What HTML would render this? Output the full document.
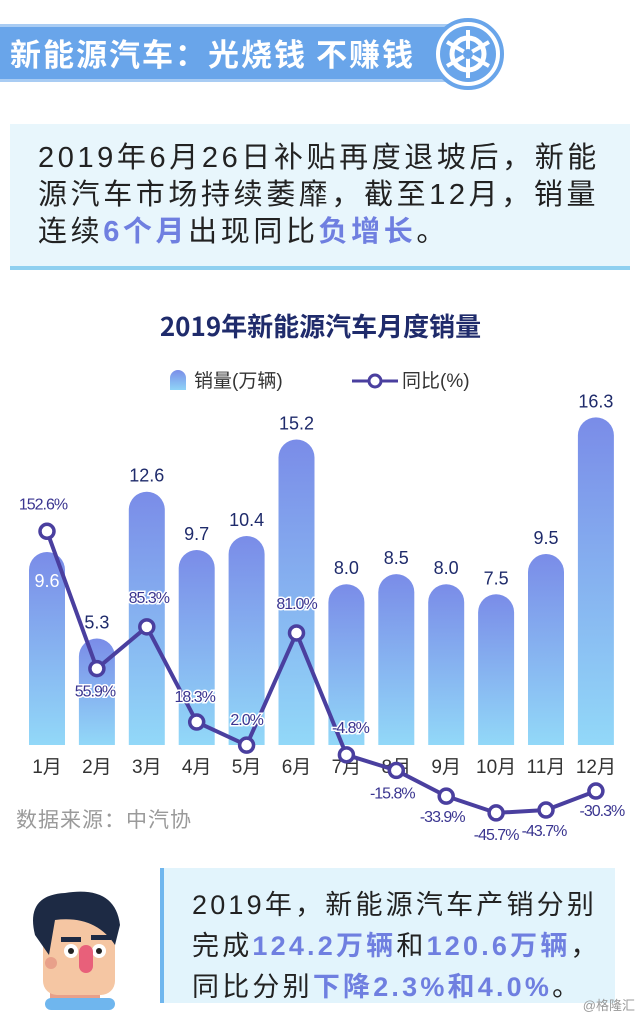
<!DOCTYPE html>
<html><head><meta charset="utf-8">
<style>
body{margin:0;width:641px;height:1019px;background:#fff;overflow:hidden;position:relative;font-family:"Liberation Sans","Noto Sans CJK SC",sans-serif}
.abs{position:absolute}
</style></head><body>
<div class="abs" style="left:0;top:24px;width:450px;height:58px;background:#69a5ea;border-top:3px solid #a9ccf3;border-bottom:3px solid #a9ccf3;box-sizing:border-box"></div>
<div class="abs" style="left:10px;top:30px;font-size:31px;font-weight:bold;color:#fff;letter-spacing:2px;font-family:'Noto Sans CJK SC',sans-serif">新能源汽车：光烧钱 不赚钱</div>
<svg class="abs" style="left:430px;top:16px" width="76" height="76">
<circle cx="38" cy="38" r="34" fill="#fff" stroke="#69a5ea" stroke-width="4"/>
<circle cx="38" cy="38" r="28" fill="#69a5ea"/>
<circle cx="38" cy="38" r="16" fill="none" stroke="#fff" stroke-width="5"/>
<g stroke="#fff" stroke-width="4"><line x1="38" y1="14" x2="38" y2="62"/><line x1="17" y1="26" x2="59" y2="50"/><line x1="17" y1="50" x2="59" y2="26"/></g>
<circle cx="38" cy="38" r="5" fill="#69a5ea"/>
</svg>
<div class="abs" style="left:10px;top:124px;width:620px;height:142px;background:#e8f6fc;border-bottom:4px solid #8fd0f0"></div>
<div class="abs" style="left:38px;top:140px;font-size:29px;line-height:37px;color:#222;width:600px;letter-spacing:3.6px;white-space:nowrap">2019年6月26日补贴再度退坡后，新能<br>源汽车市场持续萎靡，截至12月，销量<br>连续<b style="color:#6f7fe0">6个月</b>出现同比<b style="color:#6f7fe0">负增长</b>。</div>
<div class="abs" style="left:0;width:641px;text-align:center;top:307px;font-size:26px;font-weight:bold;color:#1f2b6b;font-family:'Noto Sans CJK SC',sans-serif">2019年新能源汽车月度销量</div>
<div class="abs" style="left:170px;top:366px;font-size:19px;color:#333"><span style="display:inline-block;width:16px;height:20px;border-radius:8px 8px 0 0;background:linear-gradient(#7a8ee8,#8fd4f7);vertical-align:-3px;margin-right:8px"></span>销量(万辆)</div>
<div class="abs" style="left:352px;top:366px;font-size:19px;color:#333"><svg width="46" height="16" style="vertical-align:-2px;margin-right:4px"><line x1="0" y1="8" x2="46" y2="8" stroke="#4a3f9f" stroke-width="3"/><circle cx="23" cy="8" r="6" fill="#fff" stroke="#4a3f9f" stroke-width="3"/></svg>同比(%)</div>
<svg class="abs" id="chart" style="left:0;top:0" width="641" height="870">
<defs><linearGradient id="bg" x1="0" y1="0" x2="0" y2="1"><stop offset="0" stop-color="#7a8ce8"/><stop offset="1" stop-color="#92d8f8"/></linearGradient></defs>
</svg>
<div class="abs" style="left:16px;top:804px;font-size:21px;color:#9a9a9a;letter-spacing:1px">数据来源：中汽协</div>
<div class="abs" style="left:160px;top:868px;width:455px;height:135px;background:#e2f4fc;border-left:4px solid #6fb6ee;box-sizing:border-box"></div>
<div class="abs" style="left:192px;top:885px;font-size:27px;line-height:41px;color:#222;letter-spacing:3.2px;white-space:nowrap">2019年，新能源汽车产销分别<br>完成<b style="color:#6f7fe0">124.2万辆</b>和<b style="color:#6f7fe0">120.6万辆</b>，<br>同比分别<b style="color:#6f7fe0">下降2.3%和4.0%</b>。</div>
<svg class="abs" style="left:15px;top:885px" width="120" height="130">
<rect x="35" y="85" width="50" height="35" fill="#e8a08a"/>
<rect x="28" y="20" width="72" height="90" rx="14" fill="#f5c6a3"/>
<path d="M20 50 Q10 10 50 8 Q100 0 105 40 L100 60 Q80 30 40 35 L34 70 Z" fill="#1d2a44"/>
<circle cx="56" cy="66" r="7" fill="#fff"/><circle cx="56" cy="66" r="3" fill="#222"/>
<circle cx="84" cy="66" r="7" fill="#fff"/><circle cx="84" cy="66" r="3" fill="#222"/>
<rect x="46" y="52" width="20" height="5" fill="#1d2a44"/><rect x="76" y="50" width="20" height="5" fill="#1d2a44"/>
<rect x="64" y="60" width="14" height="28" rx="7" fill="#e8607a"/>
<circle cx="36" cy="78" r="6" fill="#e8a08a"/>
<rect x="30" y="113" width="70" height="12" rx="6" fill="#6fb6ee"/>
</svg>
<div class="abs" style="right:6px;top:995px;font-size:13px;color:#999">@格隆汇</div>
<script>
const months=['1月','2月','3月','4月','5月','6月','7月','8月','9月','10月','11月','12月'];
const sales=[9.6,5.3,12.6,9.7,10.4,15.2,8.0,8.5,8.0,7.5,9.5,16.3];
const salesLabels=['9.6','5.3','12.6','9.7','10.4','15.2','8.0','8.5','8.0','7.5','9.5','16.3'];
const yoy=[152.6,55.9,85.3,18.3,2.0,81.0,-4.8,-15.8,-33.9,-45.7,-43.7,-30.3];
const yoyLabels=['152.6%','55.9%','85.3%','18.3%','2.0%','81.0%','-4.8%','-15.8%','-33.9%','-45.7%','-43.7%','-30.3%'];
const yoyLabelOffsets=[[-4,-22],[-2,28],[2,-24],[-2,-20],[0,-20],[0,-24],[4,-22],[-4,28],[-4,26],[0,27],[-2,26],[6,25]];
const svg=document.getElementById('chart'),NS='http://www.w3.org/2000/svg';
const xOf=i=>47+i*49.9, base=745, yS=v=>base-v*20.1, yP=v=>748-v*1.42, bw=36;
function mk(t,a){const e=document.createElementNS(NS,t);for(const k in a)e.setAttribute(k,a[k]);svg.appendChild(e);return e;}
sales.forEach((v,i)=>{
 const x=xOf(i),t=yS(v),r=bw/2;
 const b=mk('path',{d:`M${x-r} ${base}V${t+r}A${r} ${r} 0 0 1 ${x+r} ${t+r}V${base}Z`,fill:'url(#bg)'});
 
 
 const inside=i===0;
 const l=mk('text',{x:x,y:inside?t+35:t-10,'text-anchor':'middle','font-size':18,fill:inside?'#fff':'#1f2b6b','font-family':'Liberation Sans Narrow,Liberation Sans,sans-serif'});
 l.textContent=salesLabels[i];
 
 
 const m=mk('text',{x:x,y:773,'text-anchor':'middle','font-size':19,fill:'#333','font-family':'Liberation Sans,Noto Sans CJK SC,sans-serif'});
 m.textContent=months[i];
 
 
});
const ln=mk('polyline',{points:yoy.map((v,i)=>xOf(i)+','+yP(v)).join(' '),fill:'none',stroke:'#4a3f9f','stroke-width':4,'stroke-linejoin':'round'});


yoy.forEach((v,i)=>{
 const c=mk('circle',{cx:xOf(i),cy:yP(v),r:7,fill:'#fff',stroke:'#4a3f9f','stroke-width':3.5});
 
 
 const o=yoyLabelOffsets[i];
 const t=mk('text',{x:xOf(i)+o[0],y:yP(v)+o[1],'text-anchor':'middle','font-size':16,fill:'#3a3590','font-family':'Liberation Sans Narrow,Liberation Sans,sans-serif',stroke:'#fff','stroke-width':3,'paint-order':'stroke','letter-spacing':'-1'});
 t.textContent=yoyLabels[i];
 
 
});
</script>
</body></html>
